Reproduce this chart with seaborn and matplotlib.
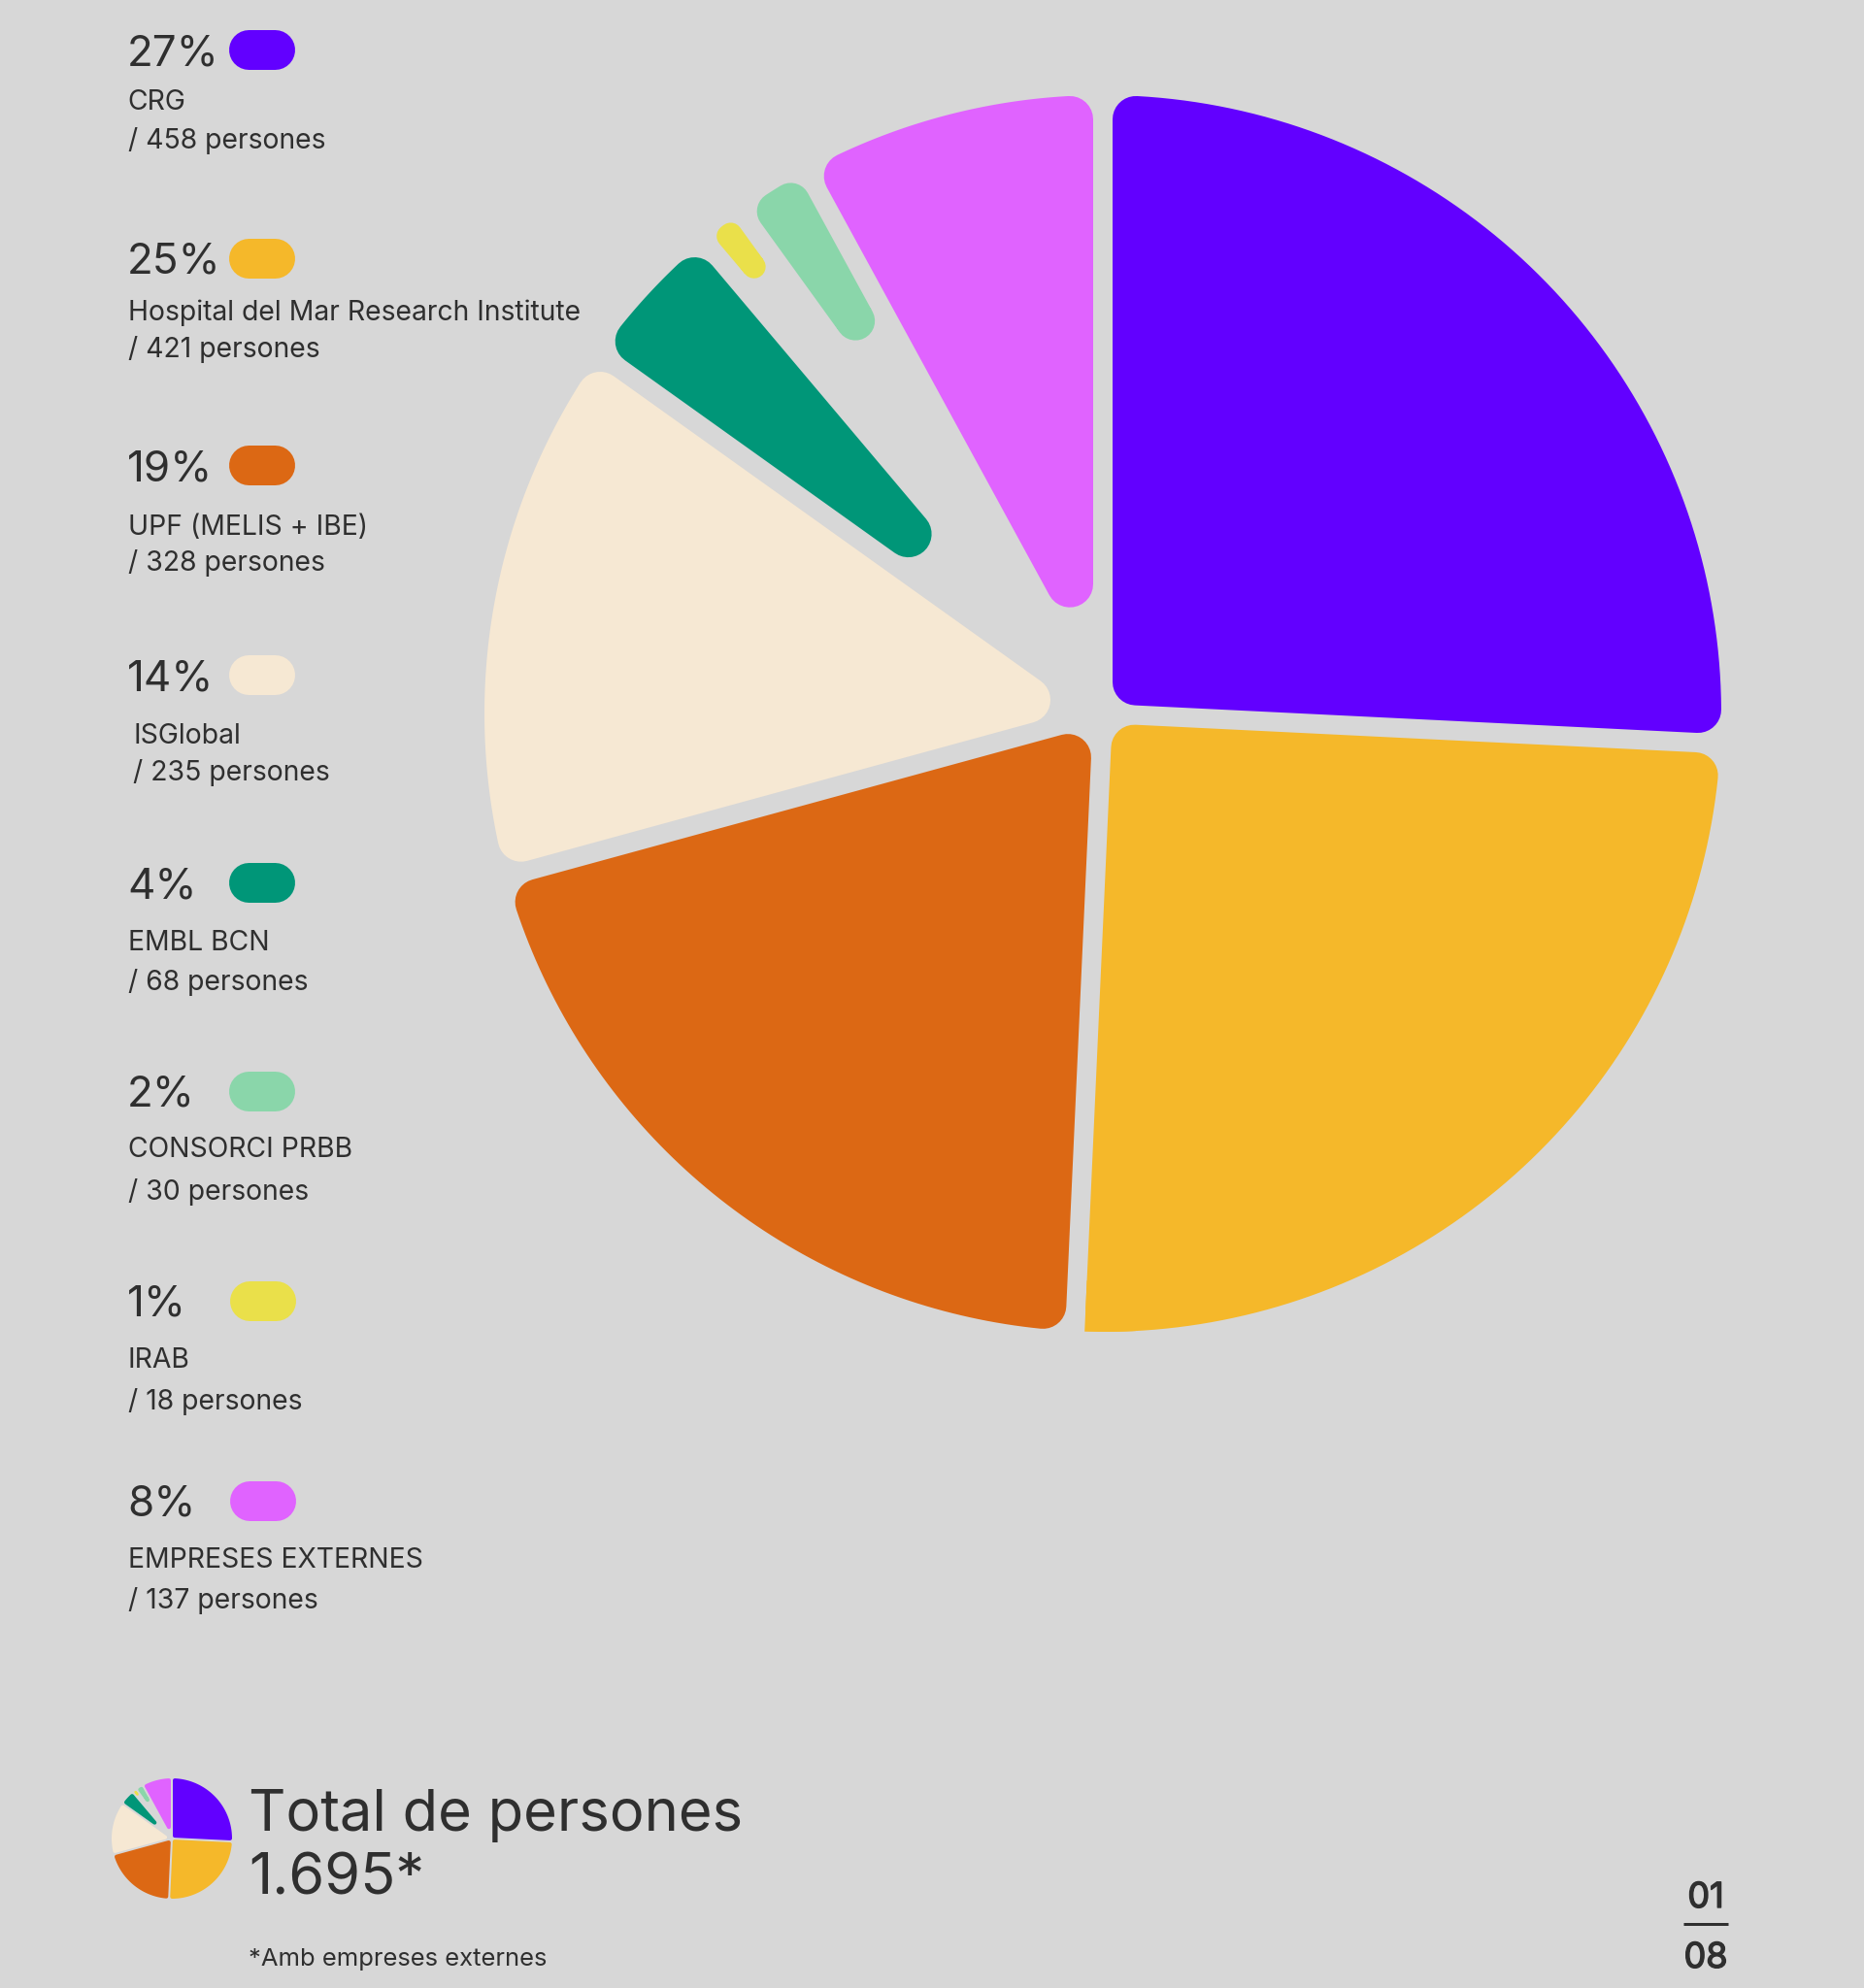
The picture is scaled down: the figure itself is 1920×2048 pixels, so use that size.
import numpy as np
import matplotlib
matplotlib.use("Agg")
import matplotlib.pyplot as plt
from matplotlib.patches import Polygon
from matplotlib.path import Path
import matplotlib.patheffects as pe
import seaborn as sns

# ---- data ----
categories = ["CRG", "Hospital del Mar Research Institute", "UPF (MELIS + IBE)", "ISGlobal",
              "EMBL BCN", "CONSORCI PRBB", "IRAB", "EMPRESES EXTERNES"]
percent_labels = ["27%", "25%", "19%", "14%", "4%", "2%", "1%", "8%"]
person_labels = ["/ 458 persones", "/ 421 persones", "/ 328 persones", "/ 235 persones",
                 "/ 68 persones", "/ 30 persones", "/ 18 persones", "/ 137 persones"]
# angular share of each slice as drawn, same order as categories
slice_shares = [25.78, 24.94, 20.03, 14.12, 3.98, 2.0, 1.2, 7.95]
# clockwise drawing order of the slices (IRAB sits before CONSORCI)
pie_order = [0, 1, 2, 3, 4, 6, 5, 7]
palette_hex = ["#6200FF", "#F5B82A", "#DC6814", "#F6E8D3", "#009678", "#8AD6AA", "#EAE04A", "#E063FF"]
title_lines = ["Total de persones", "1.695*"]
footnote = "*Amb empreses externes"
page_top, page_bottom = "01", "08"

BG = "#D7D7D7"
INK = "#2F2F2F"
W, H = 1920, 2048
PX = 0.72

sns.set_theme(style="white", rc={"figure.facecolor": BG, "axes.facecolor": "none"})
plt.rcParams["font.family"] = ["Inter", "DejaVu Sans"]
colors = sns.color_palette(palette_hex)

fig = plt.figure(figsize=(W / 100, H / 100), dpi=100, facecolor=BG)


def rounded_pie(cx, cy, radius, half_gap, corner, sharp_corner=False):
    ax = fig.add_axes([(cx - radius) / W, 1 - (cy + radius) / H, 2 * radius / W, 2 * radius / H])
    vals = [slice_shares[i] for i in pie_order]
    cols = [colors[i] for i in pie_order]
    wedges, _ = ax.pie(vals, colors=cols, startangle=90, counterclock=False, radius=1)
    ax.set_xlim(-1, 1)
    ax.set_ylim(-1, 1)
    ax.axis("off")
    for k, (w, c) in enumerate(zip(wedges, cols)):
        t1, t2 = np.radians(w.theta1), np.radians(w.theta2)
        h = (t2 - t1) / 2
        rc = min(corner, 0.5 * radius * h)
        d = (half_gap + rc) / radius
        rho = 1 - rc / radius
        delta = np.arcsin(d / rho)
        mid = (t1 + t2) / 2
        shift = d / np.sin(h)
        ang = np.linspace(t1 + delta, t2 - delta, 80)
        arc = np.c_[rho * np.cos(ang), rho * np.sin(ang)]
        apex = np.array([[shift * np.cos(mid), shift * np.sin(mid)]])
        verts = np.vstack([apex, arc, apex])
        codes = [Path.MOVETO] + [Path.LINETO] * (len(verts) - 2) + [Path.CLOSEPOLY]
        w._path = Path(verts, codes)
        w.set_facecolor(c)
        w.set_edgecolor(c)
        w.set_linewidth(2 * rc * PX)
        w.set_joinstyle("round")
        w.set_clip_on(False)
        if sharp_corner and k == 1:
            # the Hospital del Mar slice keeps a square corner where it meets the rim
            a0 = t1 + np.arcsin(half_gap / radius)
            rim = [(np.cos(a), np.sin(a)) for a in np.linspace(a0, a0 + 2.2 * rc / radius, 12)]
            e = np.array([np.cos(t1), np.sin(t1)])
            back = np.array(rim[0]) - e * 2.2 * rc / radius
            ax.add_patch(Polygon(np.vstack([rim, back]), closed=True, facecolor=c,
                                 edgecolor="none", clip_on=False))
    return ax


rounded_pie(1136, 735, 637, 10, 24, sharp_corner=True)
rounded_pie(177, 1894, 62, 1.0, 2)

ov = fig.add_axes([0, 0, 1, 1], zorder=5)
ov.set_xlim(0, W)
ov.set_ylim(H, 0)
ov.axis("off")

row_y = [51, 266, 479, 695, 909, 1124, 1340, 1546]
name_base = [113, 330, 551, 766, 979, 1192, 1409, 1615]
pers_base = [153, 368, 588, 804, 1020, 1236, 1452, 1657]
text_x = [131.5, 131.5, 131.5, 137, 131.5, 131.5, 131.5, 131.5]
chip_dx = [-1, -1, -1, -1, -1, -1, 0, 0]

for i, cat in enumerate(categories):
    ov.text(131, row_y[i] + 16, percent_labels[i], fontsize=44 * PX, color=INK, va="baseline", ha="left")
    ov.plot([256.5 + chip_dx[i], 283.5 + chip_dx[i]], [row_y[i], row_y[i]], color=colors[i],
            linewidth=41 * PX, solid_capstyle="round")
    ov.text(text_x[i], name_base[i], cat, fontsize=28.3 * PX, color=INK, va="baseline", ha="left")
    ov.text(text_x[i], pers_base[i], person_labels[i], fontsize=28.3 * PX, color=INK, va="baseline", ha="left")

ov.text(256, 1886, title_lines[0], fontsize=59.6 * PX, color=INK, va="baseline", ha="left")
ov.text(256, 1952, title_lines[1], fontsize=59.6 * PX, color=INK, va="baseline", ha="left")
ov.text(256, 2025, footnote, fontsize=25.6 * PX, color=INK, va="baseline", ha="left")

bold = [pe.withStroke(linewidth=1.0, foreground=INK)]
ov.text(1757, 1965, page_top, fontsize=36 * PX, color=INK, va="baseline", ha="center", path_effects=bold)
ov.hlines(1982, 1734, 1780, color=INK, linewidth=3 * PX)
ov.text(1757, 2027, page_bottom, fontsize=36 * PX, color=INK, va="baseline", ha="center", path_effects=bold)

fig.savefig("out.png", dpi=100, facecolor=BG)
